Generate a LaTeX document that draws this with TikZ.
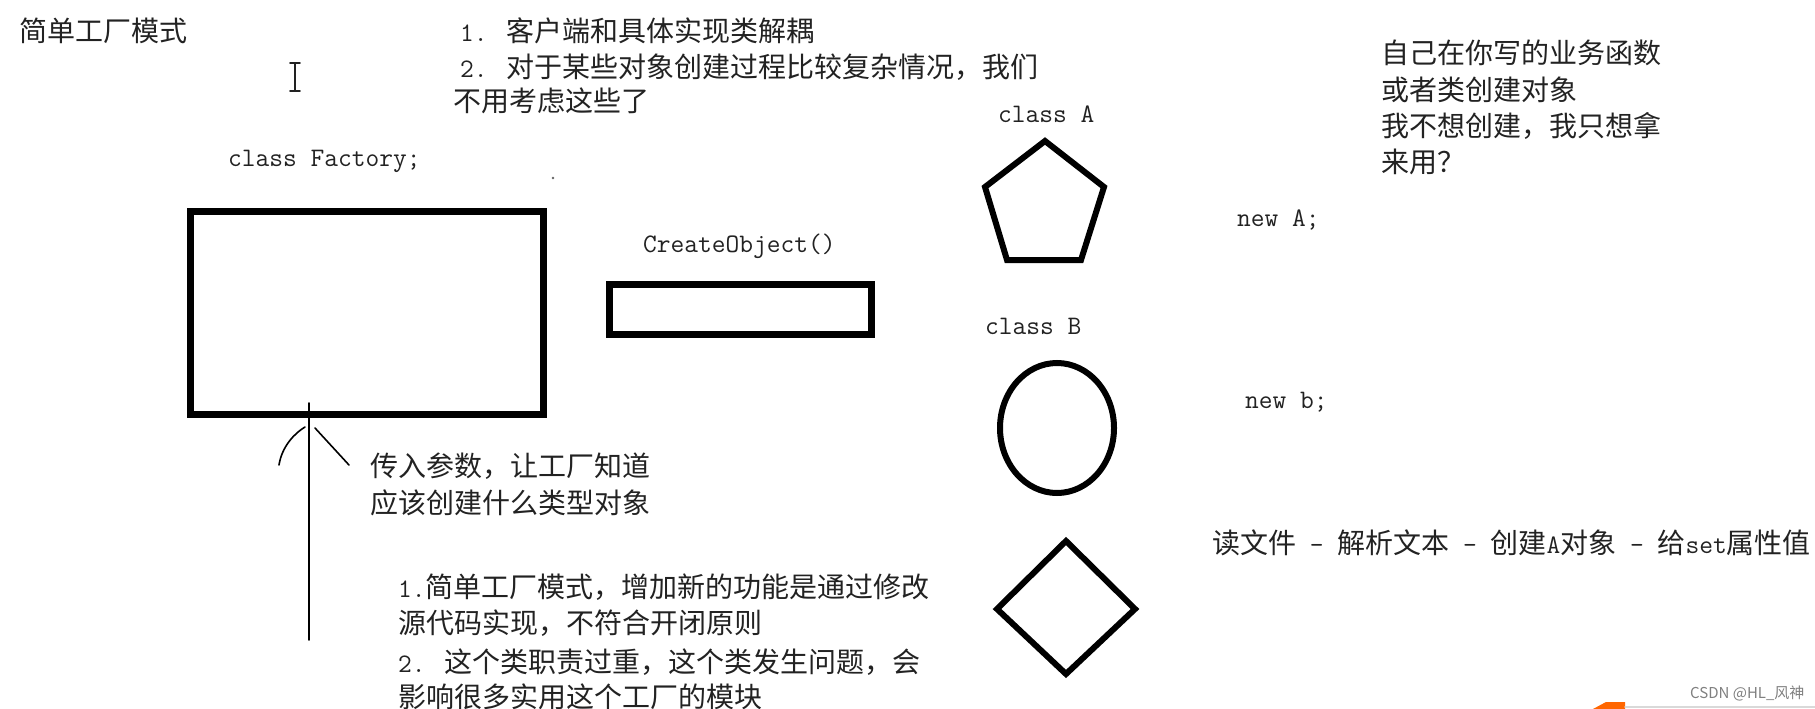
\documentclass[tikz,border=0pt]{standalone}
\usepackage{fontspec}
\newfontfamily\cjk{Noto Sans CJK SC}
\definecolor{ink}{RGB}{34,34,34}
\newcommand\hw[1]{{\ttfamily\fontsize{26.7}{32}\selectfont#1}}
\tikzset{
	note/.style={anchor=west,inner sep=0pt,text=ink,font=\cjk\fontsize{28}{34}\selectfont},
	code/.style={anchor=west,inner sep=0pt,text=ink,font=\ttfamily\fontsize{26.7}{32}\selectfont},
	boxline/.style={draw,line width=7pt,line join=miter,inner sep=0pt},
	shapeline/.style={line width=6pt,line join=miter},
	pen/.style={line width=1.6pt}
}
\begin{document}
\begin{tikzpicture}[x=1pt,y=-1pt,line join=round,line cap=round]
	\useasboundingbox (0,0) rectangle (1815,709);
	\fill[white] (0,0) rectangle (1815,709);
	
	\node[note] (title) at (19,31) {简单工厂模式};
	% cursor
	\draw[pen,ink] (290,63)--(300,63) (295,63)--(295,91) (290,91)--(300,91);
	
	\foreach \i/\x/\y/\t in {1/460/31/{\hw{1. }客户端和具体实现类解耦},2/460/67/{\hw{2. }对于某些对象创建过程比较复杂情况，我们},3/453/101/不用考虑这些了}
	\node[note] (gain\i) at (\x,\y) {\t};
	
	\node[code] (fname) at (228,161) {class Factory;};
	\fill[ink!70] (553,178) circle (1.3pt);
	
	\node[boxline,minimum width=353pt,minimum height=203pt] (factory) at (366.5,313) {};
	\node[code] (cname) at (643,246) {CreateObject()};
	\node[boxline,minimum width=262pt,minimum height=50pt] (create) at (740,309.5) {};
	
	% parameter goes in
	\path (309,640) coordinate (param)
	(309,403) coordinate (tip);
	\draw[pen] (param)--(tip);
	\draw[pen] (305,427) .. controls (295,433) and (282,446) .. (279,465);
	\draw[pen] (315,428)--(349,465);
	
	\node[note] (hint1) at (370,466) {传入参数，让工厂知道};
	\node[note] (hint2) at (370,503) {应该创建什么类型对象};
	
	\foreach \i/\y/\t in {1/587/{\hw{1.}简单工厂模式，增加新的功能是通过修改},2/623/源代码实现，不符合开闭原则,3/662/{\hw{2. }这个类职责过重，这个类发生问题，会},4/697/影响很多实用这个工厂的模块}
	\node[note] (flaw\i) at (398,\y) {\t};
	
	\node[code] (clsA) at (998,114) {class A};
	\draw[shapeline] (1045,141)--(1104,187)--(1081,260)--(1007,260)--(985,187)--cycle;
	\node[code] (clsB) at (985,326) {class B};
	\draw[shapeline] (1057,428) ellipse [x radius=57pt,y radius=65pt];
	\draw[shapeline] (997,609)--(1066,541)--(1135,609)--(1066,674)--cycle;
	
	\node[code] (newA) at (1237,220) {new A;};
	\node[code] (newB) at (1245,402) {new b;};
	\node[note] (steps) at (1212,543) {读文件\hw{ - }解析文本\hw{ - }创建\hw{A}对象\hw{ - }给\hw{set}属性值};
	
	\foreach \i/\y/\t in {1/53/自己在你写的业务函数,2/90/或者类创建对象,3/126/我不想创建，我只想拿,4/162/来用？}
	\node[note] (ask\i) at (1381,\y) {\t};
	
	\node[note,text=gray,font=\cjk\fontsize{15}{18}\selectfont] (mark) at (1690,693) {CSDN @HL\_风神};
	\fill[orange!80!red] (1593,709)--(1606,702)--(1625,702)--(1625,709)--cycle;
	\draw[gray!30,line width=1.5pt] (1625,707)--(1815,707);
\end{tikzpicture}
\end{document}
